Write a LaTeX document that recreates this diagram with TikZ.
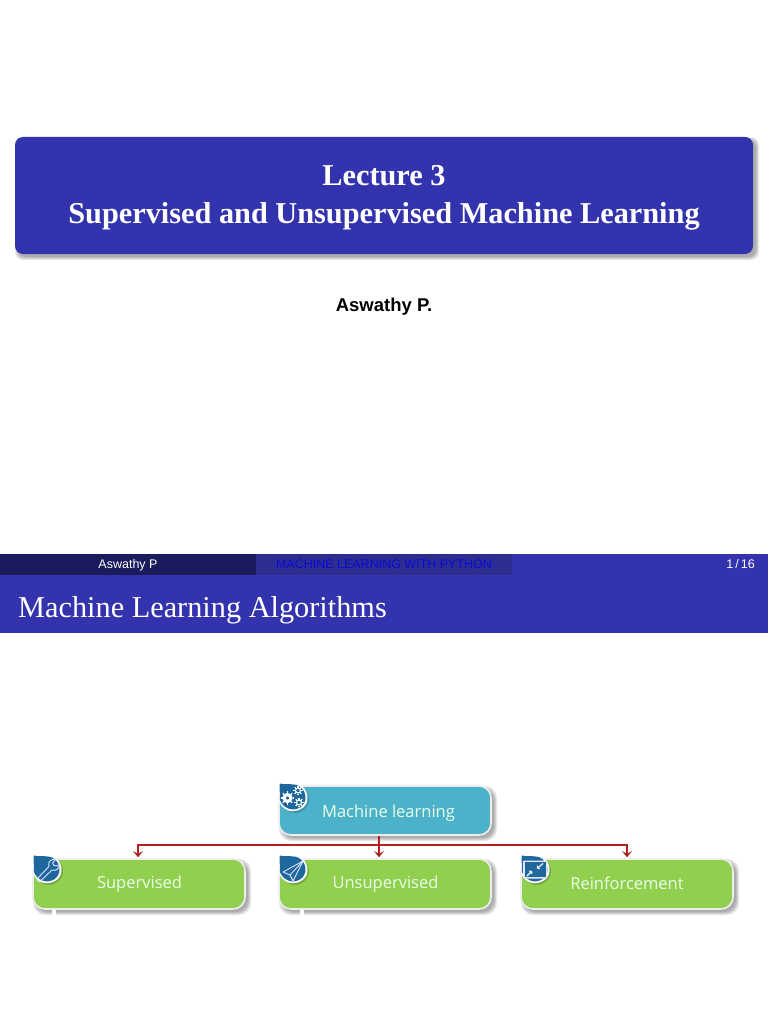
\documentclass[tikz,border=0pt]{standalone}
\usepackage{fontspec}
\setmainfont{Liberation Serif}
\newfontfamily\lsans{Liberation Sans}
\newfontfamily\osans{Open Sans}
\usetikzlibrary{arrows.meta}
\definecolor{beam}{HTML}{3333AE}
\definecolor{footA}{HTML}{1A1A5C}
\definecolor{footB}{HTML}{2D2D90}
\definecolor{linkblue}{HTML}{0A0AD8}
\definecolor{mlteal}{HTML}{4CB2C9}
\definecolor{leaf}{HTML}{90D04E}
\definecolor{dropblue}{HTML}{1F689E}
\definecolor{linkred}{HTML}{B3211F}
\tikzset{
  x=1pt,y=-1pt,
  softshadow/.style={fill=black,fill opacity=0.09,draw=none},
  boxlabel/.style={text=white!92!green,font=\osans\fontsize{16.5}{18}\selectfont,inner sep=0pt,anchor=base},
  flowbox/.style={draw=white!93!black,line width=1.6pt,rounded corners=12pt,minimum width=212pt,minimum height=50pt,inner sep=0pt},
  link/.style={draw=linkred,line width=1.5pt,-{Stealth[length=6pt,width=10pt,inset=2.5pt]}},
  linkplain/.style={draw=linkred,line width=1.5pt},
  foottext/.style={font=\lsans\fontsize{12.5}{14}\selectfont,inner sep=0pt,anchor=base},
  titletext/.style={text=white,font=\bfseries\fontsize{30.3}{34}\selectfont,inner sep=0pt,anchor=base},
  iconline/.style={draw=white!88!blue,line width=0.9pt,line join=round,line cap=round}
}
% shadow made of stacked translucent rounded rectangles
\newcommand{\softbox}[5]{%
  \foreach \g in {0,1,2,3}{%
    \fill[softshadow,rounded corners=#5] (#1+3-\g,#2+3-\g) rectangle (#3+3+\g,#4+3+\g);}}
% the blue drop: centre, with the tip up and to the left
\newcommand{\dropicon}[2]{%
  \fill[black,fill opacity=0.18] (#1+2,#2+2) circle (14);
  \fill[white] (#1-14.5,#2-15) .. controls (#1-8,#2-13) and (#1+2,#2-17) .. (#1+9,#2-11)
     .. controls (#1+17,#2-4) and (#1+16,#2+8) .. (#1+8,#2+12)
     .. controls (#1-1,#2+17) and (#1-11,#2+13) .. (#1-14,#2+4) -- cycle;
  \fill[dropblue] (#1-13.5,#2-13.5) .. controls (#1-8,#2-11.5) and (#1+1,#2-15) .. (#1+7.5,#2-10)
     .. controls (#1+14.5,#2-4) and (#1+14,#2+6) .. (#1+7,#2+10.5)
     .. controls (#1-1,#2+15) and (#1-10,#2+11) .. (#1-13,#2+3) -- cycle;}
\begin{document}
\begin{tikzpicture}
\useasboundingbox (0,0) rectangle (768,1024);
\fill[white] (0,0) rectangle (768,1024);

% title slide
\softbox{15}{137}{753}{254}{8pt}
\node[fill=beam,rounded corners=8pt,minimum width=738pt,minimum height=117pt,inner sep=0pt] (titlebox) at (384,195.5) {};
\node[titletext] (lecture) at (384,186) {Lecture 3};
\node[titletext] (subject) at (384,224) {Supervised and Unsupervised Machine Learning};
\node[font=\lsans\bfseries\fontsize{18.5}{20}\selectfont,inner sep=0pt,anchor=base] (author) at (384,311) {Aswathy P.};

% footer
\fill[footA] (0,554) rectangle (256,575);
\fill[footB] (256,554) rectangle (512,575);
\fill[beam] (512,554) rectangle (768,575);
\node[foottext,text=white] (footauthor) at (128,568.5) {Aswathy P};
\node[foottext,text=linkblue] (foottitle) at (384,568.5) {MACHINE LEARNING WITH PYTHON};
\node[foottext,text=white,anchor=base east] (footpage) at (755,568.5) {1\,/\,16};

% frame title
\fill[beam] (0,575) rectangle (768,633);
\node[text=white,font=\fontsize{30.3}{34}\selectfont,anchor=base west,inner sep=0pt] (frametitle) at (18,617.5) {Machine Learning Algorithms};

% flow boxes
\softbox{279}{786}{491}{835}{12pt}
\softbox{33}{859}{245}{909}{12pt}
\softbox{279}{859}{491}{909}{12pt}
\softbox{521}{859}{733}{909}{12pt}
\fill[white] (52,909) rectangle (56,916);
\fill[white] (300,909) rectangle (304,916);
\node[flowbox,fill=mlteal,minimum height=49pt] (ml) at (385,810.5) {};
\node[flowbox,fill=leaf] (sup) at (139,884) {};
\node[flowbox,fill=leaf] (uns) at (385,884) {};
\node[flowbox,fill=leaf] (rei) at (627,884) {};
\node[boxlabel] (mltext) at (388.5,817.5) {Machine learning};
\node[boxlabel] (suptext) at (139.5,888) {Supervised};
\node[boxlabel] (unstext) at (385.5,888) {Unsupervised};
\node[boxlabel] (reitext) at (627,889) {Reinforcement};

% connectors
\draw[linkplain] ([xshift=-6pt]ml.south) -- ++(0,9) -| ([xshift=-1pt,yshift=6pt]sup.north);
\draw[linkplain] ([xshift=-6pt]ml.south) -- ++(0,9) -| ([yshift=6pt]rei.north);
\draw[link] ([xshift=-6pt]ml.south) -- ([xshift=-6pt,yshift=1pt]uns.north);
\draw[link] ([xshift=-1pt,yshift=8pt]sup.north) -- ([xshift=-1pt,yshift=1pt]sup.north);
\draw[link] ([yshift=8pt]rei.north) -- ([yshift=1pt]rei.north);

% icons
\dropicon{293}{797}
\dropicon{47}{869}
\dropicon{293}{869}
\dropicon{535}{869}

% gears
\foreach \cx/\cy/\r/\w in {287.5/798/5/3.2, 298/790.5/3/1.1, 299/802.5/3/1.1}{
  \draw[white,line width=\w pt] (\cx,\cy) circle (\r-\w/2);
  \foreach \a in {0,45,...,315}
    \draw[white,line width=1.3pt] ({\cx+\r*cos(\a)},{\cy+\r*sin(\a)}) -- ({\cx+(\r+1.6)*cos(\a)},{\cy+(\r+1.6)*sin(\a)});
}
% wrench
\draw[iconline] (37,879) -- (49,866.5) .. controls (47.5,862) and (51,858.5) .. (55.5,859.5)
  -- (52.5,863) -- (54,865.5) -- (57.5,866) -- (59.5,863.5)
  .. controls (60,868.5) and (56,871.5) .. (52,870) -- (40,881.5) .. controls (38.5,882.5) and (36,880.5) .. (37,879) -- cycle;
% paper plane
\draw[iconline] (303,861) -- (283,872) -- (290,875) -- (293,881) -- cycle;
\draw[iconline] (303,861) -- (290,875);
% compress icon
\fill[white!90!blue,rounded corners=1pt] (523,860.5) rectangle (547,878.5);
\fill[dropblue] (524.5,862) rectangle (545.5,877);
\draw[white,line width=1.1pt,-{To[length=2.5pt,width=4.5pt]}] (543,863.5) -- (537,868.5);
\draw[white,line width=1.1pt,-{To[length=2.5pt,width=4.5pt]}] (527,876) -- (532,871);
\end{tikzpicture}
\end{document}
